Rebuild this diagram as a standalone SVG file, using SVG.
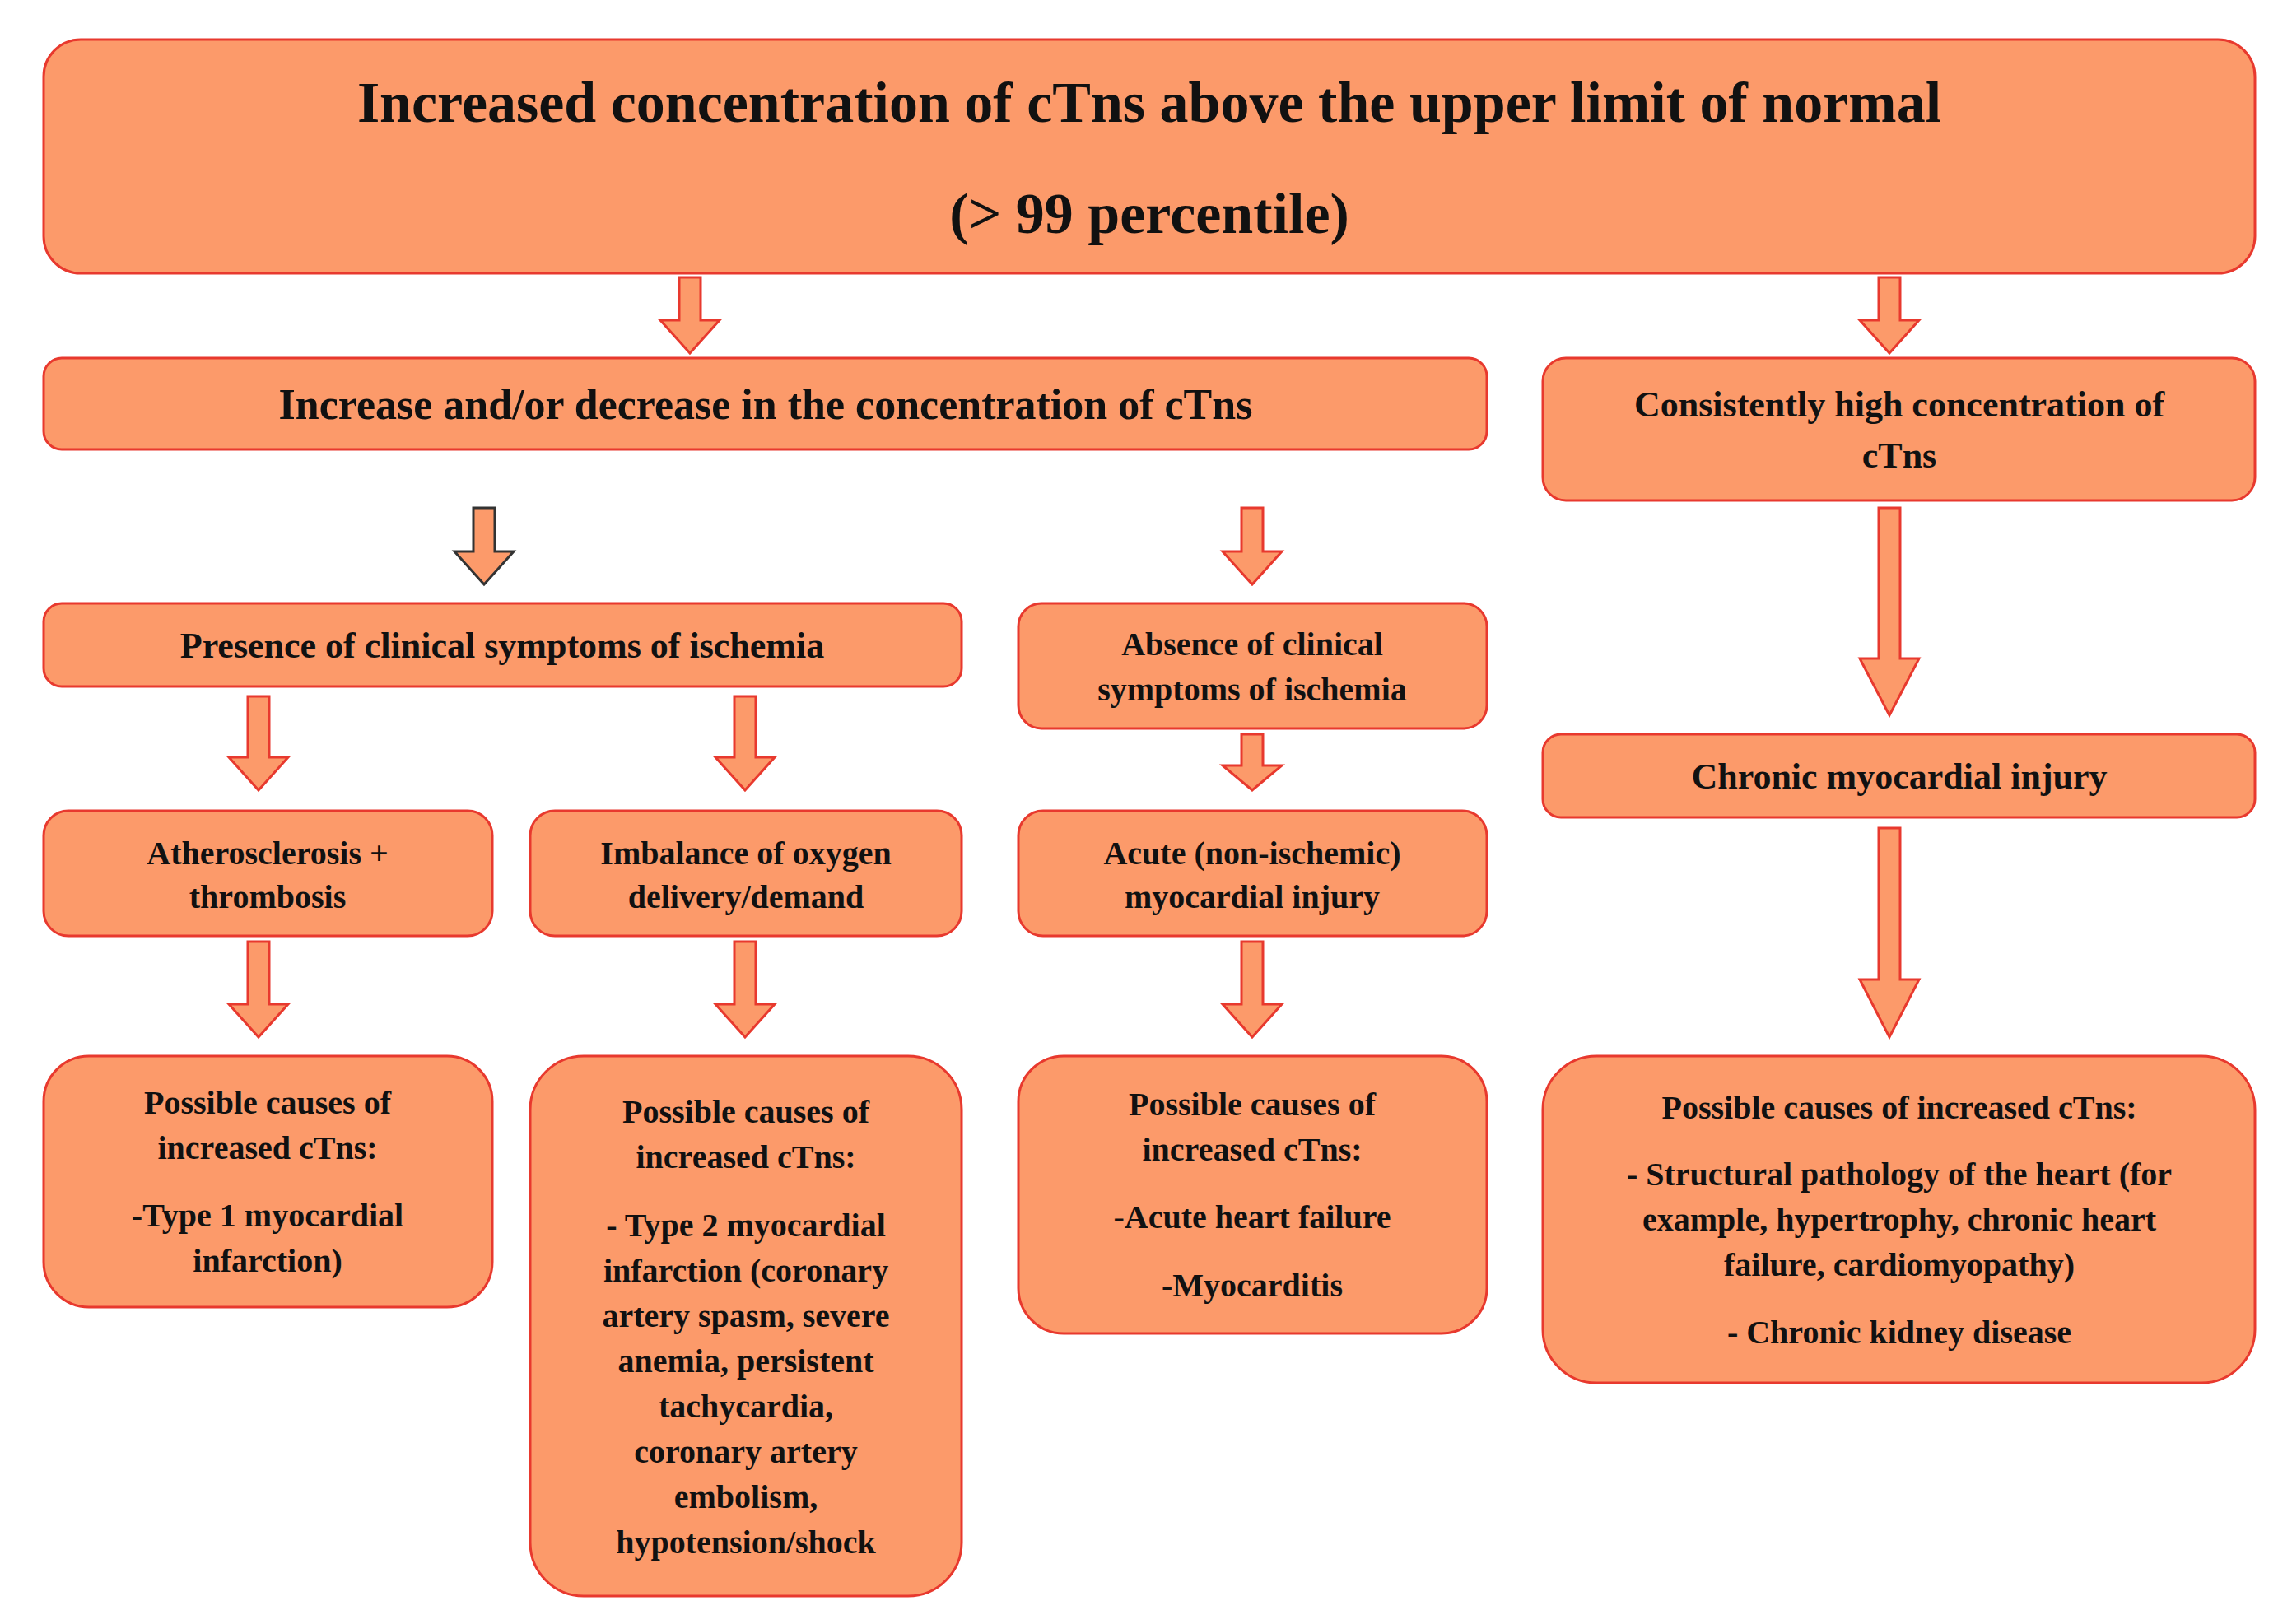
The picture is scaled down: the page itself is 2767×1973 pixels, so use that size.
<svg xmlns="http://www.w3.org/2000/svg" width="2767" height="1973" viewBox="0 0 2767 1973">
<style>
.b{fill:#FC9A6A;stroke:#E8392E;stroke-width:3}
.a{fill:#FC9A6A;stroke:#E8392E;stroke-width:3;stroke-linejoin:miter}
.d{fill:#FC9A6A;stroke:#333;stroke-width:3}
text{font-family:"Liberation Serif","Times New Roman",serif;font-weight:bold;fill:#111;text-anchor:middle;dominant-baseline:central}
.t1{font-size:70px}.t2{font-size:52px}.t3{font-size:44px}
</style>
<rect width="2767" height="1973" fill="#fff"/>
<g id="connectors">
<polygon class="a" points="825,337 851,337 851,389 874,389 838,429 802,389 825,389"/>
<polygon class="a" points="2282,337 2308,337 2308,389 2331,389 2295,429 2259,389 2282,389"/>
<polygon class="d" points="575,617 601,617 601,670 624,670 588,710 552,670 575,670"/>
<polygon class="a" points="1508,617 1534,617 1534,670 1557,670 1521,710 1485,670 1508,670"/>
<polygon class="a" points="2282,617 2308,617 2308,800 2331,800 2295,869 2259,800 2282,800"/>
<polygon class="a" points="301,846 327,846 327,920 350,920 314,960 278,920 301,920"/>
<polygon class="a" points="892,846 918,846 918,920 941,920 905,960 869,920 892,920"/>
<polygon class="a" points="1508,892 1534,892 1534,930 1557,930 1521,960 1485,930 1508,930"/>
<polygon class="a" points="301,1144 327,1144 327,1220 350,1220 314,1260 278,1220 301,1220"/>
<polygon class="a" points="892,1144 918,1144 918,1220 941,1220 905,1260 869,1220 892,1220"/>
<polygon class="a" points="1508,1144 1534,1144 1534,1220 1557,1220 1521,1260 1485,1220 1508,1220"/>
<polygon class="a" points="2282,1006 2308,1006 2308,1190 2331,1190 2295,1260 2259,1190 2282,1190"/>
</g>
<g id="top"><rect class="b" x="53" y="48" width="2686" height="284" rx="45"/>
<text class="t1" x="1396" y="124">Increased concentration of cTns above the upper limit of normal</text>
<text class="t1" x="1396" y="259">(&gt; 99 percentile)</text></g>
<g id="incdec"><rect class="b" x="53" y="435" width="1753" height="111" rx="22"/>
<text class="t2" x="930" y="491">Increase and/or decrease in the concentration of cTns</text></g>
<g id="consistent"><rect class="b" x="1874" y="435" width="865" height="173" rx="28"/>
<text class="t3" x="2307" y="491">Consistently high concentration of</text>
<text class="t3" x="2307" y="553">cTns</text></g>
<g id="presence"><rect class="b" x="53" y="733" width="1115" height="101" rx="22"/>
<text class="t3" x="610" y="784">Presence of clinical symptoms of  ischemia</text></g>
<g id="absence"><rect class="b" x="1237" y="733" width="569" height="152" rx="28"/>
<text class="t3" x="1521" y="782" style="font-size:40px">Absence of clinical</text>
<text class="t3" x="1521" y="837" style="font-size:40px">symptoms of ischemia</text></g>
<g id="chronic"><rect class="b" x="1874" y="892" width="865" height="101" rx="22"/>
<text class="t3" x="2307" y="943">Chronic myocardial injury</text></g>
<g id="athero"><rect class="b" x="53" y="985" width="545" height="152" rx="30"/>
<text class="t3" x="325" y="1036" style="font-size:40px">Atherosclerosis  +</text>
<text class="t3" x="325" y="1089" style="font-size:40px">thrombosis</text></g>
<g id="imbalance"><rect class="b" x="644" y="985" width="524" height="152" rx="30"/>
<text class="t3" x="906" y="1036" style="font-size:40px">Imbalance of oxygen</text>
<text class="t3" x="906" y="1089" style="font-size:40px">delivery/demand</text></g>
<g id="acute"><rect class="b" x="1237" y="985" width="569" height="152" rx="30"/>
<text class="t3" x="1521" y="1036" style="font-size:40px">Acute (non-ischemic)</text>
<text class="t3" x="1521" y="1089" style="font-size:40px">myocardial injury</text></g>
<g id="causes1" style="font-size:40px"><rect class="b" x="53" y="1283" width="545" height="305" rx="55"/>
<text x="325" y="1339" font-size="40">Possible causes of</text>
<text x="325" y="1394" font-size="40">increased cTns:</text>
<text x="325" y="1476" font-size="40">-Type 1 myocardial</text>
<text x="325" y="1531" font-size="40">infarction)</text></g>
<g id="causes2"><rect class="b" x="644" y="1283" width="524" height="656" rx="65"/>
<text x="906" y="1350" font-size="40">Possible causes of</text>
<text x="906" y="1405" font-size="40">increased cTns:</text>
<text x="906" y="1488" font-size="40">- Type 2 myocardial</text>
<text x="906" y="1543" font-size="40">infarction (coronary</text>
<text x="906" y="1598" font-size="40">artery spasm, severe</text>
<text x="906" y="1653" font-size="40">anemia, persistent</text>
<text x="906" y="1708" font-size="40">tachycardia,</text>
<text x="906" y="1763" font-size="40">coronary artery</text>
<text x="906" y="1818" font-size="40">embolism,</text>
<text x="906" y="1873" font-size="40">hypotension/shock</text></g>
<g id="causes3"><rect class="b" x="1237" y="1283" width="569" height="337" rx="55"/>
<text x="1521" y="1341" font-size="40">Possible causes of</text>
<text x="1521" y="1396" font-size="40">increased cTns:</text>
<text x="1521" y="1478" font-size="40">-Acute heart failure</text>
<text x="1521" y="1561" font-size="40">-Myocarditis</text></g>
<g id="causes4"><rect class="b" x="1874" y="1283" width="865" height="397" rx="65"/>
<text x="2307" y="1345" font-size="40">Possible causes of increased cTns:</text>
<text x="2307" y="1426" font-size="40">- Structural pathology of the heart (for</text>
<text x="2307" y="1481" font-size="40">example, hypertrophy, chronic heart</text>
<text x="2307" y="1536" font-size="40">failure, cardiomyopathy)</text>
<text x="2307" y="1618" font-size="40">- Chronic kidney disease</text></g>
</svg>
